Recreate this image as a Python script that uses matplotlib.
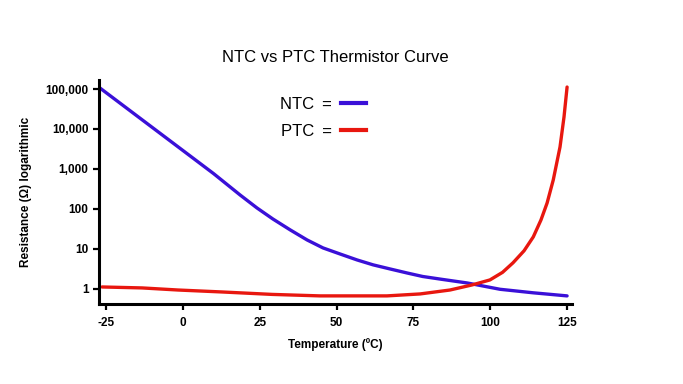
import matplotlib
matplotlib.use("Agg")
import matplotlib.pyplot as plt
from matplotlib.lines import Line2D

plt.rcParams['font.family'] = ['Liberation Sans', 'DejaVu Sans']

# NTC curve (temperature degC, resistance ohm)
ntc_t = [-27.0, -15.0, 0.0, 10.0, 18.6, 24.1, 29.3, 34.9, 40.4, 45.6, 51.1, 56.7, 61.9,
         67.4, 73.0, 78.0, 84.0, 92.5, 103.2, 114.0, 125.0]
ntc_r = [106000, 21400, 2900, 764, 224, 106, 56, 30, 16.8, 10.6, 7.5, 5.3, 4.0,
         3.16, 2.5, 2.05, 1.75, 1.41, 0.98, 0.8, 0.67]

# PTC curve
ptc_t = [-26.3, -13.3, -1.6, 12.7, 29.0, 44.6, 66.4, 77.2, 86.9, 94.1, 99.9, 104.0, 107.4, 111.0,
         114.0, 116.5, 118.5, 120.5, 122.7, 124.0, 125.0]
ptc_r = [1.12, 1.06, 0.94, 0.84, 0.73, 0.67, 0.67, 0.75, 0.94, 1.26, 1.68, 2.6, 4.5, 9.0,
         20, 53, 141, 531, 3550, 20000, 112000]

y_ticks = [1, 10, 100, 1000, 10000, 100000]
y_labels = ["1", "10", "100", "1,000", "10,000", "100,000"]
x_ticks = [-25, 0, 25, 50, 75, 100, 125]

ntc_color = "#3a10d8"
ptc_color = "#e8170f"

fig = plt.figure(figsize=(6.83, 3.84), dpi=100)
ax = fig.add_axes([99/683, 80/384, 473/683, 224/384])

ax.plot(ntc_t, ntc_r, color=ntc_color, lw=2.4, solid_capstyle="round", solid_joinstyle="round")
ax.plot(ptc_t, ptc_r, color=ptc_color, lw=2.4, solid_capstyle="round", solid_joinstyle="round")

ax.set_yscale("log")
ax.set_ylim(0.42, 1.68e5)
ax.set_xlim(-27.3, 126.6)
ax.set_yticks(y_ticks)
ax.set_yticklabels(y_labels)
ax.minorticks_off()
ax.set_xticks(x_ticks)
ax.set_xticklabels([str(v) for v in x_ticks])

for s in ["top", "right"]:
    ax.spines[s].set_visible(False)
for s in ["left", "bottom"]:
    ax.spines[s].set_linewidth(2.2)
ax.tick_params(axis="both", width=1.6, length=4, labelsize=8.5)
ax.tick_params(axis="x", pad=5)
for lab in ax.get_xticklabels() + ax.get_yticklabels():
    lab.set_fontweight("bold")

ax.set_xlabel("Temperature (ºC)", fontsize=8.5, fontweight="bold", labelpad=7)
ax.set_ylabel("Resistance (Ω) logarithmic", fontsize=8.5, fontweight="bold", labelpad=10)
ax.set_title("NTC vs PTC Thermistor Curve", fontsize=12, pad=13)

handles = [Line2D([], [], color=ntc_color, lw=3), Line2D([], [], color=ptc_color, lw=3)]
ax.legend(handles, ["NTC \u2009=", "PTC \u2009="], markerfirst=False, frameon=False, fontsize=12,
          handlelength=1.5, handletextpad=0.5, labelspacing=0.7,
          loc="upper left", bbox_to_anchor=(0.352, 0.99))

fig.savefig("out.png", dpi=100)
